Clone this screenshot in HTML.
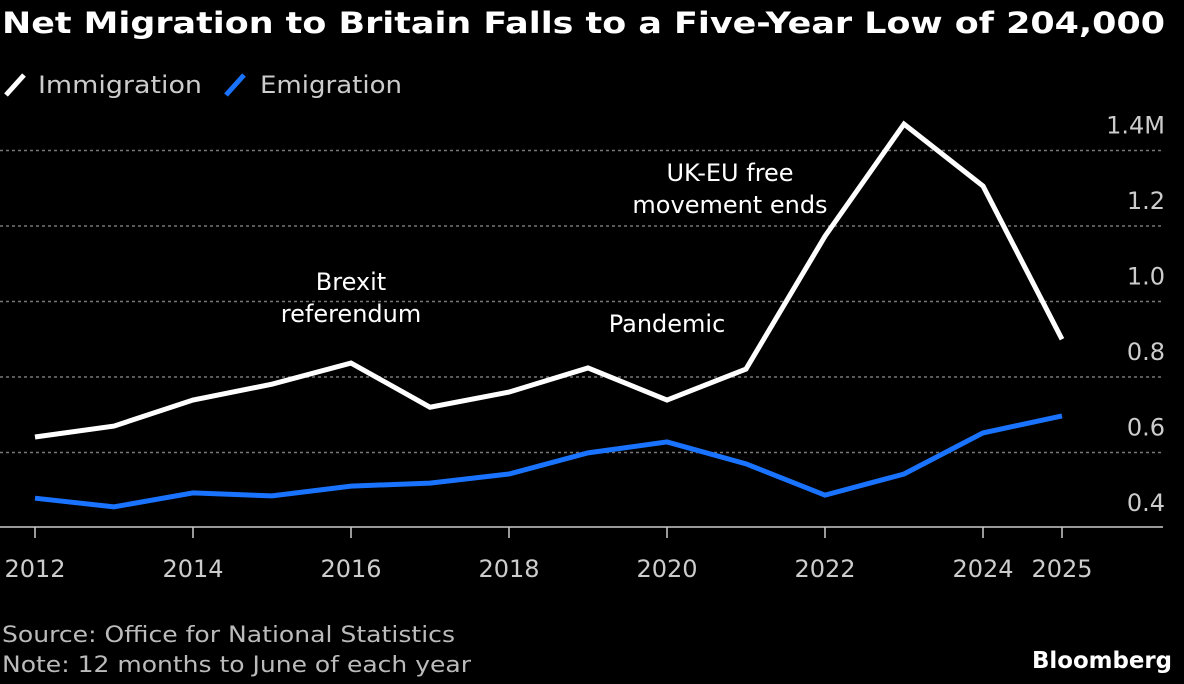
<!DOCTYPE html>
<html><head><meta charset="utf-8"><style>
body{margin:0;background:#000;width:1184px;height:680px;overflow:hidden;font-family:"DejaVu Sans","Liberation Sans",sans-serif;color:#fff}
text{font-family:"DejaVu Sans","Liberation Sans",sans-serif}
</style></head><body>
<svg width="1184" height="680" xmlns="http://www.w3.org/2000/svg">
<text x="2" y="33" font-size="29" font-weight="bold" fill="#fff" textLength="1163" lengthAdjust="spacingAndGlyphs">Net Migration to Britain Falls to a Five-Year Low of 204,000</text>
<g>
<line x1="6" y1="95" x2="24" y2="75" stroke="#fff" stroke-width="5"/>
<text x="38" y="93" font-size="24" fill="#ccc" textLength="164" lengthAdjust="spacingAndGlyphs">Immigration</text>
<line x1="226" y1="95" x2="244" y2="75" stroke="#1a73ff" stroke-width="5"/>
<text x="260" y="93" font-size="24" fill="#ccc" textLength="142" lengthAdjust="spacingAndGlyphs">Emigration</text>
</g>
<g id="grid"></g><g id="xaxis"></g><g id="series"></g>
<g font-size="24" fill="#fff" text-anchor="middle">
<text x="351" y="290">Brexit</text>
<text x="351" y="322">referendum</text>
<text x="667" y="332">Pandemic</text>
<text x="730" y="181">UK-EU free</text>
<text x="730" y="213">movement ends</text>
</g>
<text x="2" y="642" font-size="22" fill="#bbb" textLength="453" lengthAdjust="spacingAndGlyphs">Source: Office for National Statistics</text>
<text x="2" y="672" font-size="22" fill="#bbb" textLength="469" lengthAdjust="spacingAndGlyphs">Note: 12 months to June of each year</text>
<text x="1172" y="668" font-size="23" font-weight="bold" fill="#fff" text-anchor="end" textLength="140" lengthAdjust="spacingAndGlyphs">Bloomberg</text>
</svg>
<script>
const years=[2012,2013,2014,2015,2016,2017,2018,2019,2020,2021,2022,2023,2024,2025];
const immigration=[0.641,0.670,0.739,0.781,0.837,0.720,0.760,0.824,0.739,0.821,1.173,1.470,1.306,0.900];
const emigration=[0.479,0.456,0.493,0.485,0.511,0.519,0.543,0.599,0.628,0.570,0.487,0.543,0.652,0.697];
const yTicks=[0.4,0.6,0.8,1.0,1.2,1.4];
const xTicks=[2012,2014,2016,2018,2020,2022,2024,2025];
const NS="http://www.w3.org/2000/svg";
const x=v=>35+(v-2012)*79;
const y=v=>528-(v-0.4)*377.5;
function mk(t,a,p){const e=document.createElementNS(NS,t);for(const k in a)e.setAttribute(k,a[k]);p.appendChild(e);return e;}
const grid=document.getElementById('grid');
yTicks.forEach(v=>{
  if(v>0.4){const l=mk('line',{x1:0,x2:1163,y1:y(v),y2:y(v),stroke:'#777','stroke-width':1.5,'stroke-dasharray':'3,3'},grid);
  
  }
  const t=mk('text',{x:1165,y:y(v)-17,'font-size':24,fill:'#ccc','text-anchor':'end'},grid);
  t.textContent=v===1.4?'1.4M':v.toFixed(1);
  
  
});
const xa=document.getElementById('xaxis');
const ax=mk('line',{x1:0,x2:1163,y1:527,y2:527,stroke:'#ccc','stroke-width':1.5},xa);


xTicks.forEach(v=>{
  const tk=mk('line',{x1:x(v),x2:x(v),y1:527,y2:538,stroke:'#ccc','stroke-width':1.5},xa);
  
  
  const t=mk('text',{x:x(v),y:577,'font-size':24,fill:'#ccc','text-anchor':'middle'},xa);
  t.textContent=v;
  
  
});
const s=document.getElementById('series');
function line(vals,col,name){
  const p=mk('polyline',{points:vals.map((v,i)=>x(years[i])+','+y(v)).join(' '),fill:'none',stroke:col,'stroke-width':5,'stroke-linejoin':'miter'},s);
  
  
}
line(emigration,'#1a73ff','emigration-line');
line(immigration,'#fff','immigration-line');
</script>
</body></html>
